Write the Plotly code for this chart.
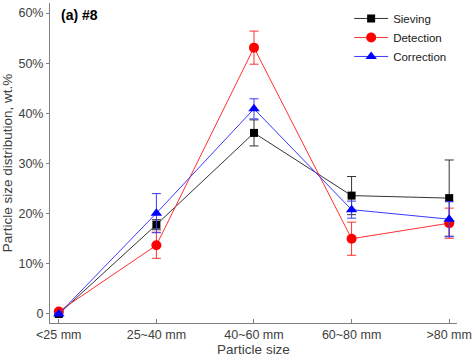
import plotly.graph_objects as go

categories = ["<25 mm", "25~40 mm", "40~60 mm", "60~80 mm", ">80 mm"]
sieving = [0.0, 17.8, 36.1, 23.6, 23.1]
sieving_err = [0.2, 1.0, 2.6, 3.8, 7.6]
detection = [0.5, 13.7, 53.1, 15.0, 18.1]
detection_err = [0.2, 2.6, 3.3, 3.3, 3.0]
correction = [0.0, 20.1, 40.9, 20.8, 18.9]
correction_err = [0.2, 3.9, 2.0, 1.7, 3.5]
ytick_vals = [0, 10, 20, 30, 40, 50, 60]
ytick_text = ["0", "10%", "20%", "30%", "40%", "50%", "60%"]

x = list(range(len(categories)))

FONT = "Liberation Sans, Arial, sans-serif"

fig = go.Figure()
series = [
    ("Sieving", sieving, sieving_err, "#000000", "#333333", "square", 8),
    ("Detection", detection, detection_err, "#ff0000", "#ff3030", "circle", 10),
    ("Correction", correction, correction_err, "#0000ff", "#3a3aff", "triangle-up", 10),
]
for name, y, err, mcol, lcol, sym, size in series:
    fig.add_trace(go.Scatter(
        x=x, y=y, name=name, mode="lines+markers",
        line=dict(color=lcol, width=1),
        marker=dict(color=mcol, symbol=sym, size=size),
        error_y=dict(type="data", array=err, visible=True, color=lcol, thickness=1, width=4.5),
    ))

fig.add_annotation(x=0.022, y=0.995, xref="paper", yref="paper", text="<b>(a) #8</b>",
                   showarrow=False, xanchor="left", yanchor="top",
                   font=dict(size=14, color="#000000", family=FONT))

fig.update_layout(
    width=474, height=363,
    margin=dict(l=50, r=17, t=3, b=40),
    paper_bgcolor="white", plot_bgcolor="white",
    font=dict(family=FONT, size=12, color="#404040"),
    legend=dict(x=0.735, y=0.997, xanchor="left", yanchor="top", bgcolor="rgba(0,0,0,0)",
                font=dict(size=11.5, color="#202020"), itemwidth=34, tracegroupgap=0),
    showlegend=True,
)
fig.update_xaxes(
    range=[-0.09, 4.08], tickvals=x, ticktext=categories, automargin=False,
    ticklabeloverflow="allow",
    showline=True, linecolor="#808080", linewidth=1, mirror=False,
    ticks="inside", ticklen=4, tickcolor="#808080", showgrid=False, zeroline=False,
    tickfont=dict(size=12.5, color="#404040"),
    title=dict(text="Particle size", font=dict(size=13.5, color="#404040"), standoff=2),
)
fig.update_yaxes(
    range=[-1.8, 62], tickvals=ytick_vals, ticktext=ytick_text, automargin=False,
    ticklabeloverflow="allow",
    showline=True, linecolor="#808080", linewidth=1,
    ticks="outside", ticklen=3, tickcolor="#808080", showgrid=False, zeroline=False,
    tickfont=dict(size=12.5, color="#404040"),
    title=dict(text="Particle size distribution, wt.%", font=dict(size=13.5, color="#404040"), standoff=4),
)

fig.write_html("out.html", config={"displayModeBar": False},
               post_script="document.body.style.margin='0';document.body.style.overflow='hidden';")
